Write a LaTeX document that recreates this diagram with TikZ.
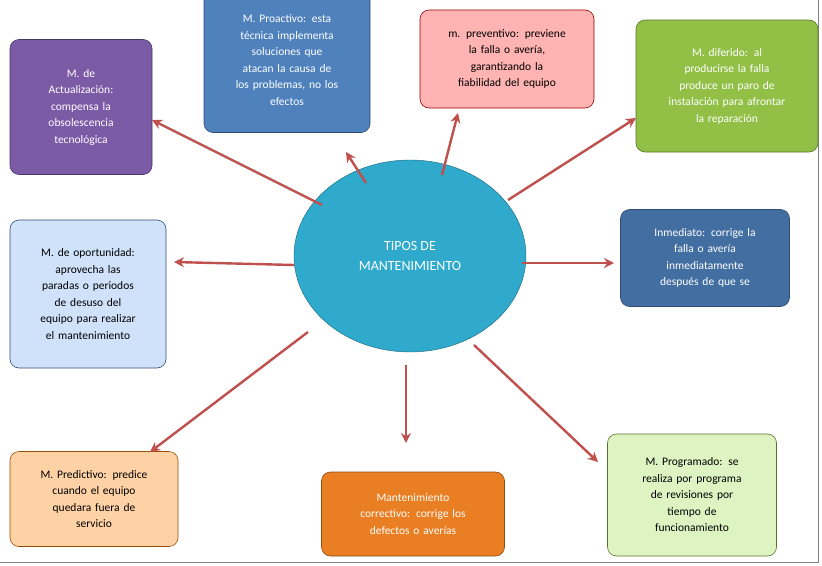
\documentclass[tikz,border=0pt]{standalone}
\usepackage{fontspec}
\setmainfont{Carlito}
\usetikzlibrary{arrows.meta,shapes.geometric}
\begin{document}
\begin{tikzpicture}[x=1pt,y=-1pt,
 box/.style={draw=#1!60!black,rounded corners=9pt,line width=0.6pt,align=center,font=\fontsize{11.5}{16.5}\selectfont,inner sep=3pt},
 arr/.style={draw=arrc,line width=2.4pt,-{Stealth[length=10pt,width=10pt]}}]
\definecolor{arrc}{HTML}{C0504D}
\useasboundingbox (0,0) rectangle (822,565);
\fill[white] (0,0) rectangle (822,565);
\draw[gray,line width=1pt] (818,0) -- (818,562) -- (0,562);
\definecolor{cpur}{HTML}{7B5AA6}\definecolor{cblu}{HTML}{4F81BD}\definecolor{cpink}{HTML}{FFB3B3}
\definecolor{cgrn}{HTML}{92C047}\definecolor{clblu}{HTML}{D0E2FA}\definecolor{clor}{HTML}{FFD2A6}
\definecolor{corg}{HTML}{EA7E22}\definecolor{clgrn}{HTML}{DDF3C2}\definecolor{cteal}{HTML}{2FA9CC}
\node[box=cpur,fill=cpur,text=white,minimum width=142,minimum height=135,text width=132] (a) at (81,107) {M. de\\Actualización:\\compensa la\\obsolescencia\\tecnológica};
\node[box=cblu,fill=cblu,text=white,minimum width=166,minimum height=145,text width=158] (b) at (287,60) {M. Proactivo: esta\\técnica implementa\\soluciones que\\atacan la causa de\\los problemas, no los\\efectos};
\node[box=red,fill=cpink,text=black,minimum width=174,minimum height=98,text width=168] (c) at (507,59) {m. preventivo: previene\\la falla o avería,\\garantizando la\\fiabilidad del equipo};
\node[box=cgrn,fill=cgrn,text=white,minimum width=182,minimum height=132,text width=176] (d) at (727,86) {M. diferido: al\\producirse la falla\\produce un paro de\\instalación para afrontar\\la reparación};
\node[box=cblu,fill=cblu!85!black,text=white,minimum width=169,minimum height=97,text width=163] (e) at (705,258) {Inmediato: corrige la\\falla o avería\\inmediatamente\\después de que se};
\node[box=cblu,fill=clblu,text=black,minimum width=156,minimum height=148,text width=150] (f) at (88,294) {M. de oportunidad:\\aprovecha las\\paradas o periodos\\de desuso del\\equipo para realizar\\el mantenimiento};
\node[box=orange,fill=clor,text=black,minimum width=168,minimum height=95,text width=162] (g) at (94,499) {M. Predictivo: predice\\cuando el equipo\\quedara fuera de\\servicio};
\node[box=corg,fill=corg,text=white,minimum width=183,minimum height=84,text width=175] (h) at (413,514) {Mantenimiento\\correctivo: corrige los\\defectos o averías};
\node[box=cgrn,fill=clgrn,text=black,minimum width=169,minimum height=122,text width=163] (i) at (692,495) {M. Programado: se\\realiza por programa\\de revisiones por\\tiempo de\\funcionamiento};
\node[ellipse,draw=cteal!60!black,fill=cteal,minimum width=232,minimum height=192,text=white,align=center,font=\fontsize{14}{20}\selectfont] (m) at (410,256) {TIPOS DE\\MANTENIMIENTO};
\coordinate (a1) at (322,205); \coordinate (a2) at (152,120);
\coordinate (b1) at (366,183); \coordinate (b2) at (346,152);
\coordinate (c1) at (442,175); \coordinate (c2) at (458,113);
\coordinate (d1) at (508,200); \coordinate (d2) at (636,118);
\coordinate (e1) at (522,263); \coordinate (e2) at (614,263);
\coordinate (f1) at (294,265); \coordinate (f2) at (174,262);
\coordinate (g1) at (308,332); \coordinate (g2) at (150,452);
\coordinate (h1) at (406,365); \coordinate (h2) at (406,443);
\coordinate (i1) at (474,345); \coordinate (i2) at (598,462);
\foreach \s in {a,b,c,d,e,f,g,h,i} \draw[arr] (\s1) -- (\s2);
\end{tikzpicture}
\end{document}
